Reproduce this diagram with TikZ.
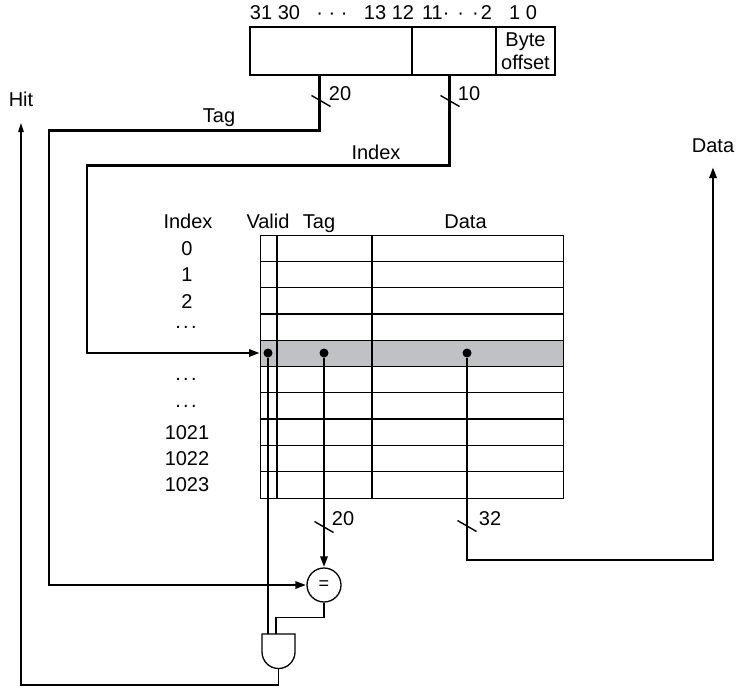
\documentclass[tikz,border=0pt]{standalone}
\usepackage{fontspec}
\setmainfont{Liberation Sans}
\usetikzlibrary{arrows.meta,calc}
\definecolor{hl}{RGB}{192,193,197}
\newcommand\rowdots{.\hspace{2.4pt}.\hspace{2.4pt}.}
\begin{document}
\begin{tikzpicture}[x=1pt,y=-1pt,
  lbl/.style={font=\fontsize{20}{21}\selectfont, inner sep=0pt, anchor=base},
  fine/.style={line width=1.3pt},
  hair/.style={line width=1.1pt},
  wire/.style={line width=2.8pt},
  bigtip/.style={-{Triangle[length=11pt,width=7pt]}},
  smalltip/.style={-{Triangle[length=9pt,width=5.5pt]}},
  field/.style={draw, line width=1.3pt, minimum height=48pt, inner sep=0pt},
  bus/.pic={\draw[line width=1.4pt] (-9.5,-5.5) -- (9.5,5.5);},
  blob/.style={circle, fill, inner sep=0pt, minimum size=9pt}
]
\useasboundingbox (0,0) rectangle (741,696);

% address fields
\node[field, minimum width=162pt] (tagf) at (331,51) {};
\node[field, minimum width=84pt] (idxf) at (454,51) {};
\node[field, minimum width=59pt, align=center, font=\fontsize{20}{23}\selectfont] (offf) at (525.5,51) {Byte\\offset};

% bit numbers
\node[lbl] (b1) at (275,19) {31 30};
\node[lbl] (b2) at (332,19) {·~·~·};
\node[lbl] (b3) at (389,19) {13 12};
\node[lbl] (b4) at (457,19) {11·\hspace{8pt}·\hspace{8pt}·\hspace{2pt}2};
\node[lbl] (b5) at (523,19) {1 0};

% table
\fill[hl] (260,340) rectangle (563,366);
\node[draw, line width=1.3pt, minimum width=303pt, minimum height=263pt, inner sep=0pt, anchor=north west] (tbl) at (260,235) {};
\foreach \i in {1,...,9} \draw[fine] (260,{235+26.3*\i}) -- (563,{235+26.3*\i});
\draw[fine] (277,235) -- (277,498);
\draw[fine] (372,235) -- (372,498);

% headers
\node[lbl] (hidx) at (188,228) {Index};
\node[lbl] (hval) at (268,228) {Valid};
\node[lbl] (htag) at (319,228) {Tag};
\node[lbl] (hdat) at (465.5,228) {Data};

% row labels
\node[lbl] (r0) at (187,255.6) {0};
\node[lbl] (r1) at (187,281.9) {1};
\node[lbl] (r2) at (187,308.2) {2};
\node[lbl] (r3) at (186,328.5) {\rowdots};
\node[lbl] (r5) at (186,380.5) {\rowdots};
\node[lbl] (r6) at (186,407.5) {\rowdots};
\node[lbl] (r7) at (187,439.3) {1021};
\node[lbl] (r8) at (187,465.6) {1022};
\node[lbl] (r9) at (187,491.9) {1023};

% dots in selected row
\node[blob] (vdot) at (268,353) {};
\node[blob] (tdot) at (324,353) {};
\node[blob] (ddot) at (467,353) {};

% comparator
\node[draw, circle, line width=1.3pt, minimum size=34pt, inner sep=0pt, font=\fontsize{18}{18}\selectfont] (cmp) at (324,585) {=};

% AND gate
\draw[fine] (262,652) -- (262,634) -- (295,634) -- (295,652) arc[start angle=0, end angle=-180, radius=16.5pt] -- cycle;
\coordinate (andin1) at (268,634);
\coordinate (andin2) at (276,634);
\coordinate (andout) at (278.5,669);

% labels
\node[lbl] (hit) at (21,106) {Hit};
\node[lbl] (dataout) at (713,152) {Data};
\node[lbl] (ltag) at (219,122) {Tag};
\node[lbl] (lidx) at (376,159) {Index};
\node[lbl] (w1) at (340,100) {20};
\node[lbl] (w2) at (469,100) {10};
\node[lbl] (w3) at (343,525) {20};
\node[lbl] (w4) at (490,525) {32};

\coordinate (hittip) at (21,123);
\coordinate (datatip) at (713,167);

% tag wire
\draw[wire, bigtip] ($(tagf.south west)+(70,0)$) -- ++(0,55) -| (49,585) -- (cmp.west);
% index wire
\draw[wire, bigtip] ($(idxf.south west)+(38,0)$) -- ++(0,90) -| (87,353) -- (tbl.west |- vdot);
% tag from table
\draw[wire, bigtip] (tdot) -- (cmp.north);
% data out
\draw[wire, bigtip] (ddot) -- (467,560) -| (datatip);
% valid
\draw[fine] (vdot) -- (andin1);
% comparator to and
\draw[fine] (cmp.south) -- ++(0,15) -| (andin2);
% hit
\draw[hair, smalltip] (andout) -- ++(0,16) -| (hittip);

% bus width marks
\pic at (321,101) {bus};
\pic at (450,101) {bus};
\pic at (324,527) {bus};
\pic at (467,526) {bus};
\end{tikzpicture}
\end{document}
